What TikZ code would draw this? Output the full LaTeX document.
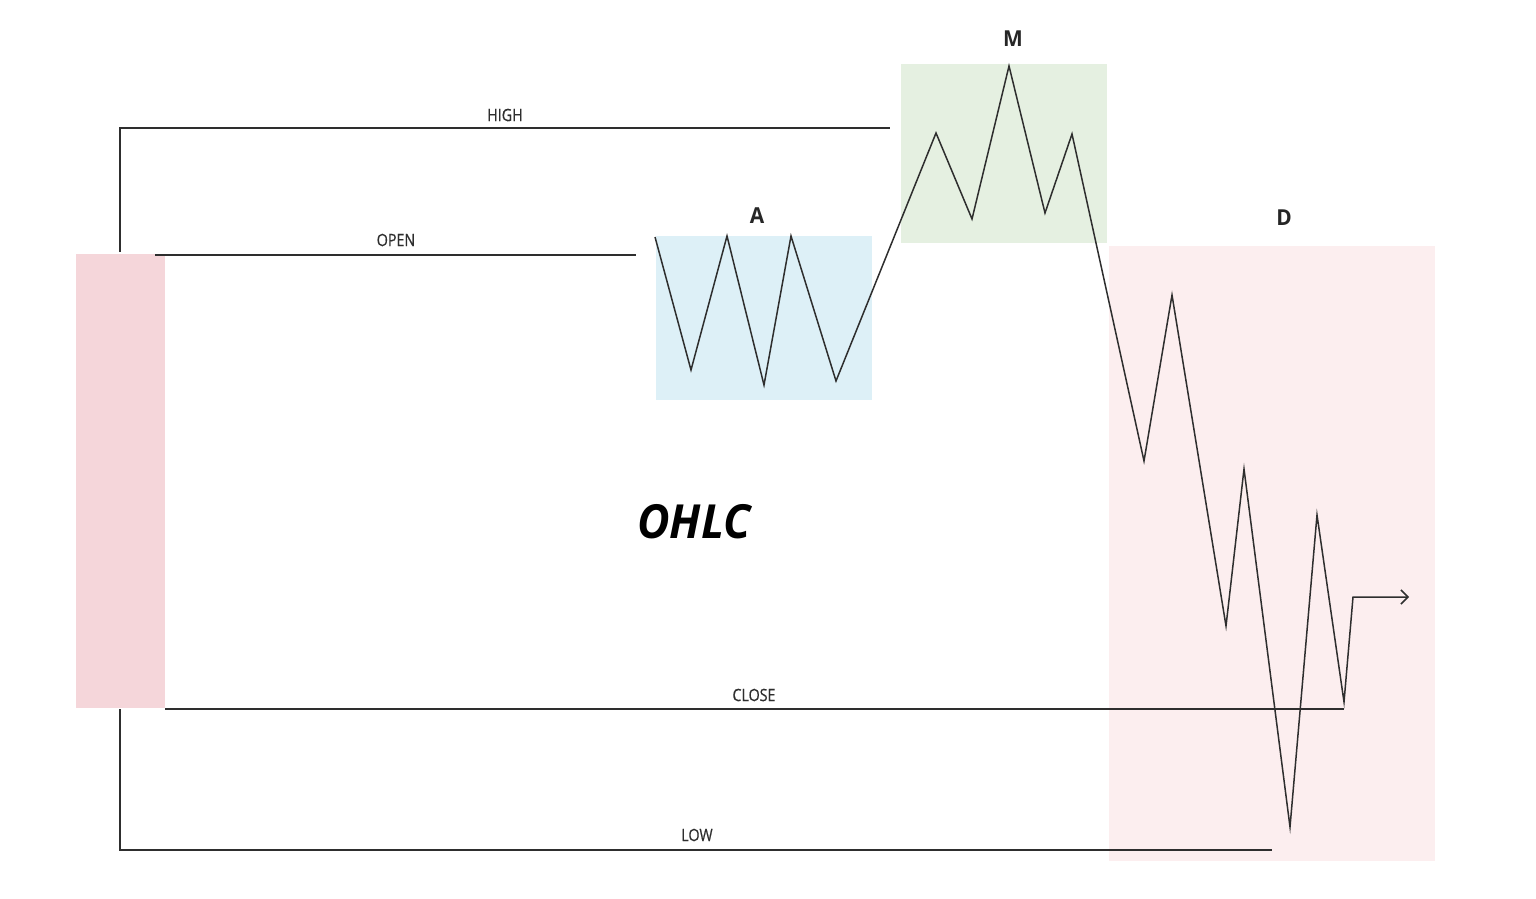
\documentclass[tikz,border=0pt]{standalone}
\usepackage{fontspec}
\setmainfont{Open Sans}
\newfontfamily\lblfont[FakeStretch=0.84,FakeBold=0.6]{Open Sans}
\newfontfamily\boldlbl[FakeStretch=0.95]{Open Sans}
\usetikzlibrary{arrows.meta}
\definecolor{candle}{HTML}{F5D6DA}
\definecolor{boxA}{HTML}{DDF0F7}
\definecolor{boxM}{HTML}{E5F0E1}
\definecolor{boxD}{HTML}{FCEEEF}
\definecolor{ink}{HTML}{2E2E2E}
\tikzset{
  lvl/.style={draw=ink, line width=1.5pt},
  price/.style={draw=ink, line width=1.5pt, line join=miter},
  lvllabel/.style={inner sep=0pt, font=\lblfont\fontsize{17}{17}\selectfont, text=ink},
  zonelabel/.style={inner sep=0pt, font=\boldlbl\bfseries\fontsize{22}{22}\selectfont, text=black!85},
}
\begin{document}
\begin{tikzpicture}[x=1pt,y=-1pt]
\useasboundingbox (0,0) rectangle (1536,899);
% zones
\fill[boxA] (656,236) rectangle (872,400);
\fill[boxM] (901,64) rectangle (1107,243);
\fill[boxD] (1109,246) rectangle (1435,861);
\fill[candle] (76,254) rectangle (165,708);
% level coordinates
\coordinate (hiL) at (120,128);
\coordinate (hiR) at (890,128);
\coordinate (opL) at (155,255);
\coordinate (opR) at (636,255);
\coordinate (clL) at (165,709);
\coordinate (clR) at (1344,709);
\coordinate (loL) at (120,850);
\coordinate (loR) at (1272,850);
\coordinate (wickT) at (120,252);
\coordinate (wickB) at (120,709);
% level lines
\draw[lvl] (wickT) -- (hiL) -- (hiR);
\draw[lvl] (opL) -- (opR);
\draw[lvl] (clL) -- (clR);
\draw[lvl] (wickB) -- (loL) -- (loR);
% labels
\node[lvllabel] (lhigh) at (505,115) {HIGH};
\node[lvllabel] (lopen) at (396,240) {OPEN};
\node[lvllabel] (lclose) at (754,695) {CLOSE};
\node[lvllabel] (llow) at (697,835) {LOW};
\node[zonelabel] (la) at (757,216) {A};
\node[zonelabel] (lm) at (1013,39) {M};
\node[zonelabel] (ld) at (1284,218) {D};
\node[inner sep=0pt, font=\boldlbl\bfseries\itshape\fontsize{47}{47}\selectfont] (title) at (694,522) {OHLC};
% price path
\draw[price, -{Straight Barb[length=7pt,width=14pt]}]
  (655,237) -- (691,370) -- (727,236) -- (764,385) -- (791,236) -- (836,381)
  -- (936,133) -- (972,219) -- (1009,66) -- (1045,213) -- (1072,134)
  -- (1144,461) -- (1172,295) -- (1226,626) -- (1244,469) -- (1290,827)
  -- (1317,515) -- (1344,702) -- (1353,597) -- (1409,597);
\end{tikzpicture}
\end{document}
